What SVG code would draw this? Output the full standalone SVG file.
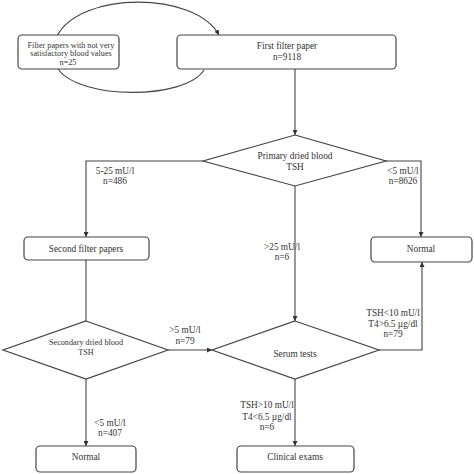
<svg xmlns="http://www.w3.org/2000/svg" width="474" height="474" viewBox="0 0 474 474">
<defs>
<marker id="ah" viewBox="0 0 10 10" refX="10" refY="5" markerWidth="5" markerHeight="5" orient="auto" markerUnits="userSpaceOnUse">
<path d="M0,0 L10,5 L0,10 z" fill="#333"/>
</marker>
<style>
.box{fill:#fff;stroke:#444;stroke-width:1.2}
.ln{fill:none;stroke:#444;stroke-width:1.1}
text{font-family:"Liberation Serif","Times New Roman",serif;font-size:9.3px;fill:#333;text-anchor:middle}
.sm{font-size:8.2px}
</style>
</defs>
<rect width="474" height="474" fill="#fff"/>
<g id="connectors">
<path class="ln" d="M57,36 C80,-9 195,-9 219,35" marker-end="url(#ah)"/>
<path class="ln" d="M204,70 C185,100 80,100 58,69"/>
<path class="ln" d="M295,69 V135" marker-end="url(#ah)"/>
<path class="ln" d="M203,161 H86 V237" marker-end="url(#ah)"/>
<path class="ln" d="M386,161 H421 V237" marker-end="url(#ah)"/>
<path class="ln" d="M295,186 V321" marker-end="url(#ah)"/>
<path class="ln" d="M86,260 V321"/>
<path class="ln" d="M168,350 H212" marker-end="url(#ah)"/>
<path class="ln" d="M86,379 V446" marker-end="url(#ah)"/>
<path class="ln" d="M379,350 H422 V262" marker-end="url(#ah)"/>
<path class="ln" d="M295,379 V446" marker-end="url(#ah)"/>
<text x="115" y="174">5-25 mU/l</text>
<text x="115" y="184">n=486</text>
<text x="403" y="174">&lt;5 mU/l</text>
<text x="403" y="184">n=8626</text>
<text x="282" y="250">&gt;25 mU/l</text>
<text x="282" y="260">n=6</text>
<text x="185" y="333">&gt;5 mU/l</text>
<text x="185" y="344">n=79</text>
<text x="110" y="426">&lt;5 mU/l</text>
<text x="110" y="436">n=407</text>
<text x="393" y="316">TSH&lt;10 mU/l</text>
<text x="393" y="327">T4&gt;6.5 µg/dl</text>
<text x="393" y="337">n=79</text>
<text x="267" y="408">TSH&gt;10 mU/l</text>
<text x="267" y="420">T4&lt;6.5 µg/dl</text>
<text x="267" y="430">n=6</text>
</g>
<g id="n_unsat">
<rect class="box" x="18" y="35" width="101" height="34" rx="4"/>
<text class="sm" x="71" y="48">Filter papers with not very</text>
<text class="sm" x="71" y="56">satisfactory blood values</text>
<text class="sm" x="68" y="65">n=25</text>
</g>
<g id="n_first">
<rect class="box" x="177" y="35" width="219" height="34" rx="4"/>
<text x="287" y="49">First filter paper</text>
<text x="287" y="60">n=9118</text>
</g>
<g id="n_primary">
<polygon class="box" points="295,135 386,161 295,186 203,161"/>
<text x="295" y="159">Primary dried blood</text>
<text x="295" y="170">TSH</text>
</g>
<g id="n_second">
<rect class="box" x="24" y="237" width="125" height="23" rx="4"/>
<text x="86" y="252">Second filter papers</text>
</g>
<g id="n_normal1">
<rect class="box" x="371" y="237" width="101" height="25" rx="4"/>
<text x="421" y="252">Normal</text>
</g>
<g id="n_secondary">
<polygon class="box" points="86,321 168,350 86,379 3,350"/>
<text class="sm" x="86" y="345">Secondary dried blood</text>
<text class="sm" x="86" y="355">TSH</text>
</g>
<g id="n_serum">
<polygon class="box" points="295,321 379,350 295,379 212,350"/>
<text x="295" y="357">Serum tests</text>
</g>
<g id="n_normal2">
<rect class="box" x="36" y="446" width="100" height="26" rx="4"/>
<text x="86" y="460">Normal</text>
</g>
<g id="n_clinical">
<rect class="box" x="237" y="446" width="117" height="26" rx="4"/>
<text x="295" y="460">Clinical exams</text>
</g>
</svg>
